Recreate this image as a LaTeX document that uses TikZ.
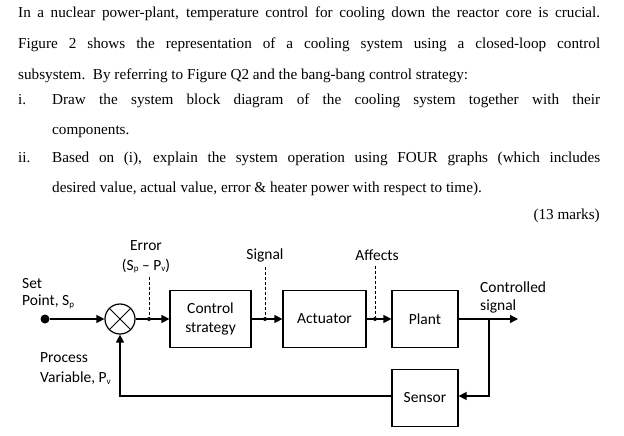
\documentclass[tikz,border=0pt]{standalone}
\usepackage{fontspec}
\setmainfont{Liberation Serif}
\newfontfamily\dsans{Carlito}
\usetikzlibrary{arrows.meta}
\newcommand\sbs[1]{\raisebox{-0.25ex}{\fontsize{9}{9}\selectfont #1}}
\newcommand\jline[2]{\hbox to #1{#2}}
\begin{document}
\begin{tikzpicture}[x=1pt,y=-1pt,
  txt/.style={anchor=base west,inner sep=0pt,font=\fontsize{15.2}{18}\selectfont},
  lab/.style={inner sep=0pt,font=\dsans\fontsize{15.5}{18}\selectfont},
  blk/.style={draw,line width=1.2pt,inner sep=0pt,font=\dsans\fontsize{15.5}{18.5}\selectfont,align=center},
  ln/.style={line width=1.2pt},
  arr/.style={ln,-{Triangle[length=8pt,width=8pt]}},
  dsh/.style={densely dashed,line width=0.5pt},
  dot/.style={circle,fill,inner sep=0pt,minimum size=4pt}]
\useasboundingbox (0,0) rectangle (624,436);
% text
\node[txt] (t1) at (18,18) {\jline{582pt}{In a nuclear power-plant, temperature control for cooling down the reactor core is crucial.}};
\node[txt] (t2) at (18,49) {\jline{582pt}{Figure 2 shows the representation of a cooling system using a closed-loop control}};
\node[txt] (t3) at (18,80) {subsystem.\ \ By referring to Figure Q2 and the bang-bang control strategy:};
\node[txt] (t4) at (18,104) {i.};
\node[txt] (t5) at (52,104) {\jline{548pt}{Draw the system block diagram of the cooling system together with their}};
\node[txt] (t6) at (52,134) {components.};
\node[txt] (t7) at (18,162) {ii.};
\node[txt] (t8) at (52,162) {\jline{548pt}{Based on (i), explain the system operation using FOUR graphs (which includes}};
\node[txt] (t9) at (52,192) {desired value, actual value, error \& heater power with respect to time).};
\node[txt,anchor=base east] (t10) at (600,219) {(13 marks)};
% blocks
\node[blk,minimum width=81pt,minimum height=57pt] (cs) at (210.5,319) {Control\\strategy};
\node[blk,minimum width=83pt,minimum height=57pt] (ac) at (324.5,319) {Actuator};
\node[blk,minimum width=66pt,minimum height=57pt] (pl) at (425,319) {Plant};
\node[blk,minimum width=66pt,minimum height=57pt] (se) at (425,398) {Sensor};
\node[draw,ln,circle,minimum size=30pt,inner sep=0pt] (sum) at (120,319) {};
\draw[line width=1pt] (sum.north west) -- (sum.south east) (sum.north east) -- (sum.south west);
\node[dot,minimum size=9pt] (sp) at (45,319) {};
\coordinate (br) at (489,319);
\coordinate (out) at (518,319);
\coordinate (fb) at (120,396);
\node[dot] (d1) at (149,319) {};
\node[dot] (d2) at (265,319) {};
\node[dot] (d3) at (375,319) {};
\draw[arr] (sp) -- (sum);
\draw[arr] (sum) -- (cs);
\draw[arr] (cs) -- (ac);
\draw[arr] (ac) -- (pl);
\draw[arr] (pl) -- (out);
\draw[arr] (br) |- (se.east |- fb);
\draw[arr] (se.west |- fb) -- (fb) -- (sum);
% labels
\node[lab] (le) at (146,246) {Error};
\node[lab] (le2) at (146,266) {(S\sbs{p} \textendash\ P\sbs{v})};
\node[lab] (ls) at (265,255) {Signal};
\node[lab] (la) at (377,255) {Affects};
\draw[dsh] (le2.south -| d1) ++(0,3) -- (d1);
\draw[dsh] (ls.south -| d2) ++(0,5) -- (d2);
\draw[dsh] (la.south -| d3) ++(0,5) -- (d3);
\node[lab,anchor=west] (lsp1) at (22,284) {Set};
\node[lab,anchor=west] (lsp2) at (22,302) {Point, S\sbs{p}};
\node[lab,anchor=west] (lc1) at (480,287) {Controlled};
\node[lab,anchor=west] (lc2) at (480,306) {signal};
\node[lab,anchor=west] (lp1) at (40,358) {Process};
\node[lab,anchor=west] (lp2) at (40,378) {Variable, P\sbs{v}};
\end{tikzpicture}
\end{document}
